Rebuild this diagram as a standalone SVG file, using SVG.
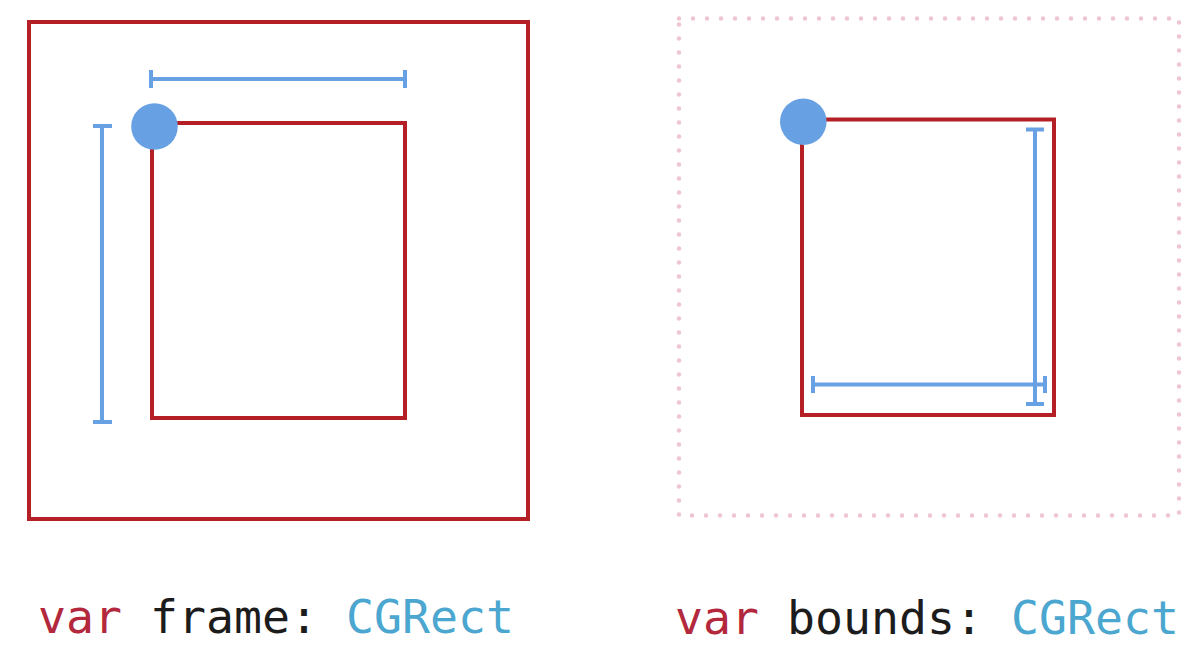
<svg xmlns="http://www.w3.org/2000/svg" width="1200" height="662" viewBox="0 0 1200 662">
<style>
.red{fill:none;stroke:#b51f26;stroke-width:4}
.dim{fill:none;stroke:#67a0e3;stroke-width:4}
.dot{fill:#67a0e3}
.dotted{fill:none;stroke:#efc6d0;stroke-width:4.5;stroke-linecap:round;stroke-dasharray:0 14}
.code{font-family:"DejaVu Sans Mono","Liberation Mono",monospace;font-size:46.5px}
.kw{fill:#b3283c}
.id{fill:#1c1c1c}
.ty{fill:#4ba7d0}
</style>
<rect width="1200" height="662" fill="#ffffff"/>
<g id="frame-diagram">
  <rect class="red" x="29" y="22" width="499" height="497"/>
  <rect class="red" x="152" y="123" width="253" height="295"/>
  <path class="dim" d="M151 79H405M151 70V88M405 70V88"/>
  <path class="dim" d="M102 126V422M93 126H112M93 422H112"/>
  <circle class="dot" cx="154.5" cy="126.5" r="23.3"/>
</g>
<g id="bounds-diagram">
  <rect class="dotted" x="679" y="18.5" width="500" height="497"/>
  <rect class="red" x="802" y="119.5" width="252" height="295.5"/>
  <path class="dim" d="M813 384.5H1045M813 376V393M1045 376V393"/>
  <path class="dim" d="M1035 129.5V404M1026 129.5H1044M1026 404H1044"/>
  <circle class="dot" cx="803.3" cy="121.7" r="23.3"/>
</g>
<g id="labels">
  <text class="code" x="38" y="633" xml:space="preserve"><tspan class="kw">var</tspan><tspan class="id"> frame: </tspan><tspan class="ty">CGRect</tspan></text>
  <text class="code" x="675" y="634" xml:space="preserve"><tspan class="kw">var</tspan><tspan class="id"> bounds: </tspan><tspan class="ty">CGRect</tspan></text>
</g>
</svg>
